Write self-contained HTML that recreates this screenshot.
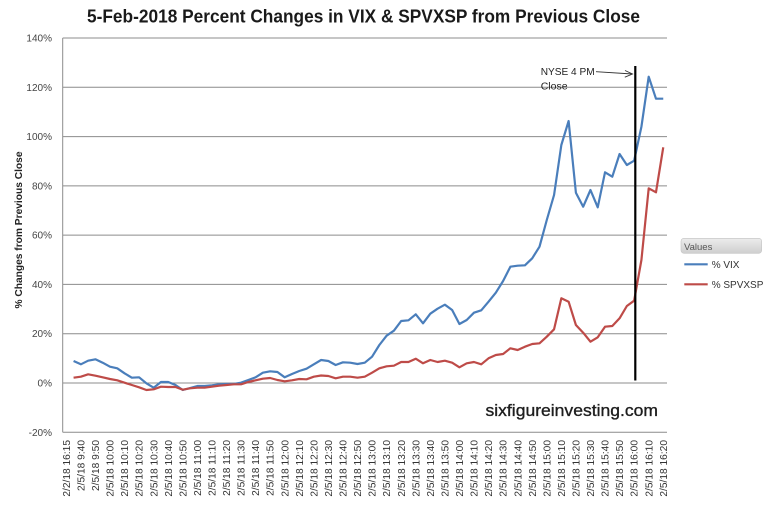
<!DOCTYPE html>
<html><head><meta charset="utf-8"><style>
html,body{margin:0;padding:0;background:#fff;}
svg{display:block;}
text{font-family:"Liberation Sans",Arial,sans-serif;}
</style></head><body>
<svg width="768" height="506" viewBox="0 0 768 506" xmlns="http://www.w3.org/2000/svg">
<defs>
<linearGradient id="lg" x1="0" y1="0" x2="0" y2="1">
<stop offset="0" stop-color="#ececec"/><stop offset="1" stop-color="#cfcfcf"/>
</linearGradient>
</defs>
<rect width="768" height="506" fill="#fff"/>
<text x="363.5" y="22.7" font-size="18" font-weight="bold" fill="#1a1a1a" text-anchor="middle" textLength="553" lengthAdjust="spacingAndGlyphs">5-Feb-2018 Percent Changes in VIX &amp; SPVXSP from Previous Close</text>

<g stroke="#8c8c8c" stroke-width="1">
<line x1="62.7" y1="38" x2="667" y2="38"/>
<line x1="62.7" y1="87.3" x2="667" y2="87.3"/>
<line x1="62.7" y1="136.6" x2="667" y2="136.6"/>
<line x1="62.7" y1="185.9" x2="667" y2="185.9"/>
<line x1="62.7" y1="235.1" x2="667" y2="235.1"/>
<line x1="62.7" y1="284.4" x2="667" y2="284.4"/>
<line x1="62.7" y1="333.7" x2="667" y2="333.7"/>
<line x1="62.7" y1="383" x2="667" y2="383"/>
<line x1="62.7" y1="432.3" x2="667" y2="432.3"/>
<line x1="62.7" y1="38" x2="62.7" y2="432.3"/>
</g>

<g font-size="10" fill="#444" text-anchor="end">
<text x="52" y="41.5">140%</text>
<text x="52" y="90.8">120%</text>
<text x="52" y="140.1">100%</text>
<text x="52" y="189.4">80%</text>
<text x="52" y="238.6">60%</text>
<text x="52" y="287.9">40%</text>
<text x="52" y="337.2">20%</text>
<text x="52" y="386.5">0%</text>
<text x="52" y="435.8">-20%</text>
</g>

<text transform="translate(22,230) rotate(-90)" font-size="10" font-weight="bold" fill="#222" text-anchor="middle" textLength="157" lengthAdjust="spacingAndGlyphs">% Changes from Previous Close</text>

<g font-size="10.2" fill="#333" text-anchor="end">
<text transform="translate(69.9,440) rotate(-90)">2/2/18 16:15</text>
<text transform="translate(84.46,440) rotate(-90)">2/5/18 9:40</text>
<text transform="translate(99.02,440) rotate(-90)">2/5/18 9:50</text>
<text transform="translate(113.58,440) rotate(-90)">2/5/18 10:00</text>
<text transform="translate(128.14,440) rotate(-90)">2/5/18 10:10</text>
<text transform="translate(142.7,440) rotate(-90)">2/5/18 10:20</text>
<text transform="translate(157.26,440) rotate(-90)">2/5/18 10:30</text>
<text transform="translate(171.82,440) rotate(-90)">2/5/18 10:40</text>
<text transform="translate(186.38,440) rotate(-90)">2/5/18 10:50</text>
<text transform="translate(200.94,440) rotate(-90)">2/5/18 11:00</text>
<text transform="translate(215.5,440) rotate(-90)">2/5/18 11:10</text>
<text transform="translate(230.06,440) rotate(-90)">2/5/18 11:20</text>
<text transform="translate(244.62,440) rotate(-90)">2/5/18 11:30</text>
<text transform="translate(259.18,440) rotate(-90)">2/5/18 11:40</text>
<text transform="translate(273.74,440) rotate(-90)">2/5/18 11:50</text>
<text transform="translate(288.3,440) rotate(-90)">2/5/18 12:00</text>
<text transform="translate(302.86,440) rotate(-90)">2/5/18 12:10</text>
<text transform="translate(317.42,440) rotate(-90)">2/5/18 12:20</text>
<text transform="translate(331.98,440) rotate(-90)">2/5/18 12:30</text>
<text transform="translate(346.54,440) rotate(-90)">2/5/18 12:40</text>
<text transform="translate(361.1,440) rotate(-90)">2/5/18 12:50</text>
<text transform="translate(375.66,440) rotate(-90)">2/5/18 13:00</text>
<text transform="translate(390.22,440) rotate(-90)">2/5/18 13:10</text>
<text transform="translate(404.78,440) rotate(-90)">2/5/18 13:20</text>
<text transform="translate(419.34,440) rotate(-90)">2/5/18 13:30</text>
<text transform="translate(433.9,440) rotate(-90)">2/5/18 13:40</text>
<text transform="translate(448.46,440) rotate(-90)">2/5/18 13:50</text>
<text transform="translate(463.02,440) rotate(-90)">2/5/18 14:00</text>
<text transform="translate(477.58,440) rotate(-90)">2/5/18 14:10</text>
<text transform="translate(492.14,440) rotate(-90)">2/5/18 14:20</text>
<text transform="translate(506.7,440) rotate(-90)">2/5/18 14:30</text>
<text transform="translate(521.26,440) rotate(-90)">2/5/18 14:40</text>
<text transform="translate(535.82,440) rotate(-90)">2/5/18 14:50</text>
<text transform="translate(550.38,440) rotate(-90)">2/5/18 15:00</text>
<text transform="translate(564.94,440) rotate(-90)">2/5/18 15:10</text>
<text transform="translate(579.5,440) rotate(-90)">2/5/18 15:20</text>
<text transform="translate(594.06,440) rotate(-90)">2/5/18 15:30</text>
<text transform="translate(608.62,440) rotate(-90)">2/5/18 15:40</text>
<text transform="translate(623.18,440) rotate(-90)">2/5/18 15:50</text>
<text transform="translate(637.74,440) rotate(-90)">2/5/18 16:00</text>
<text transform="translate(652.3,440) rotate(-90)">2/5/18 16:10</text>
<text transform="translate(666.86,440) rotate(-90)">2/5/18 16:20</text>
</g>

<polyline fill="none" stroke="#4a7ebb" stroke-width="2.2" stroke-linejoin="round" points="73.58,361 80.86,364.3 88.14,360.7 95.42,359.3 102.7,362.7 109.98,366.7 117.26,368.3 124.54,373.3 131.82,377.7 139.1,377.3 146.38,383.3 153.66,387.7 160.94,382 168.22,382 175.5,385 182.78,390 190.06,388 197.34,386 204.62,386 211.9,385.3 219.18,384.3 226.46,384 233.74,384 241.02,382.7 248.3,380 255.58,377.3 262.86,372.7 270.14,371.3 277.42,372 284.7,377.3 291.98,374 299.26,371 306.54,368.7 313.82,364.3 321.1,360 328.38,361 335.66,365 342.94,362.3 350.22,362.7 357.5,364 364.78,362.7 372.06,356.7 379.34,345 386.62,335.7 393.9,330.7 401.18,321 408.46,320.3 415.74,314.3 423.02,323.3 430.3,313.7 437.58,308.7 444.86,304.7 452.14,310 459.42,324 466.7,320 473.98,312.7 481.26,310.3 488.54,301.7 495.82,292.7 503.1,281 510.38,266.7 517.66,265.7 524.94,265.3 532.22,258.3 539.5,246.7 546.78,220 554.06,195 561.34,145 568.62,121 575.9,192.7 583.18,206.7 590.46,190 597.74,207.3 605.02,172.3 612.3,176.7 619.58,154 626.86,165 634.14,160.7 641.42,126.7 648.7,76.7 655.98,98.7 663.26,98.7"/>

<polyline fill="none" stroke="#be4b48" stroke-width="2.2" stroke-linejoin="round" points="73.58,377.7 80.86,376.7 88.14,374.3 95.42,375.7 102.7,377.3 109.98,379 117.26,380.3 124.54,382.7 131.82,385 139.1,387.3 146.38,390 153.66,389.3 160.94,386.7 168.22,387 175.5,387 182.78,389.7 190.06,388.3 197.34,387.7 204.62,387.7 211.9,386.7 219.18,385.7 226.46,385 233.74,384.3 241.02,384.3 248.3,382 255.58,380.3 262.86,378.7 270.14,378 277.42,380 284.7,381.3 291.98,380.3 299.26,379 306.54,379.3 313.82,376.7 321.1,375.5 328.38,376 335.66,378.3 342.94,376.7 350.22,376.7 357.5,377.7 364.78,376.7 372.06,372.7 379.34,368.3 386.62,366.3 393.9,365.7 401.18,362 408.46,362 415.74,358.7 423.02,363.3 430.3,360 437.58,362 444.86,360.7 452.14,362.7 459.42,367.3 466.7,363.3 473.98,362 481.26,364.3 488.54,358.3 495.82,355 503.1,354 510.38,348.3 517.66,350 524.94,346.7 532.22,344 539.5,343.3 546.78,336.7 554.06,329.3 561.34,298.3 568.62,301.7 575.9,325 583.18,332.7 590.46,341.7 597.74,337.3 605.02,326.7 612.3,326 619.58,318.3 626.86,306 634.14,300.7 641.42,260 648.7,188.3 655.98,192.3 663.26,147.3"/>

<line x1="635.3" y1="66" x2="635.3" y2="380.5" stroke="#000" stroke-width="2.2"/>
<g font-size="10.5" fill="#222">
<text x="540.7" y="75" textLength="54" lengthAdjust="spacingAndGlyphs">NYSE 4 PM</text>
<text x="540.7" y="89.5">Close</text>
</g>
<g stroke="#333" stroke-width="0.9" fill="none">
<line x1="596" y1="71.7" x2="632.5" y2="74"/>
<polyline points="625,70.5 632.5,74 624.8,77.2"/>
</g>

<text x="485.5" y="416" font-size="16.5" fill="#1e1e1e" stroke="#1e1e1e" stroke-width="0.35" textLength="172.5" lengthAdjust="spacingAndGlyphs">sixfigureinvesting.com</text>

<rect x="681" y="238.3" width="80.7" height="15" rx="3" ry="3" fill="url(#lg)" stroke="#c4c4c4" stroke-width="0.6"/>
<text x="684" y="249.8" font-size="9.5" fill="#555">Values</text>
<line x1="684.3" y1="264.3" x2="707.7" y2="264.3" stroke="#4a7ebb" stroke-width="2.2"/>
<line x1="684.3" y1="284.3" x2="707.7" y2="284.3" stroke="#be4b48" stroke-width="2.2"/>
<g font-size="10" fill="#333">
<text x="711.7" y="268">% VIX</text>
<text x="711.7" y="288">% SPVXSP</text>
</g>
</svg>
</body></html>
